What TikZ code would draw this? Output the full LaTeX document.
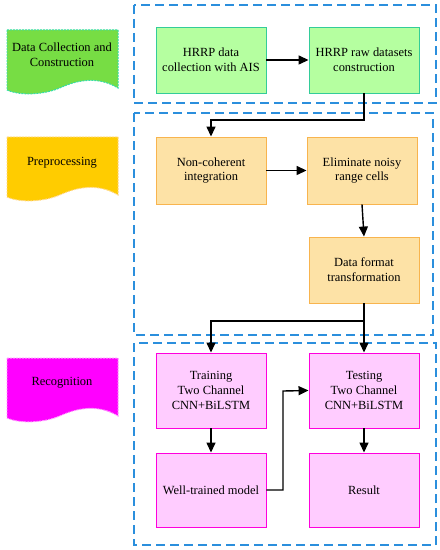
\documentclass[tikz,border=0pt]{standalone}
\usepackage{fontspec}
\setmainfont{Liberation Serif}
\usetikzlibrary{arrows.meta}
\definecolor{dashblue}{HTML}{2B8FDD}
\definecolor{lgfill}{HTML}{77DD44}
\definecolor{lgbord}{HTML}{33DDAA}
\definecolor{gfill}{HTML}{B5FFA0}
\definecolor{gbord}{HTML}{33CC99}
\definecolor{lofill}{HTML}{FFCC00}
\definecolor{lobord}{HTML}{FFD88A}
\definecolor{ofill}{HTML}{FDE2A6}
\definecolor{obord}{HTML}{F8B44E}
\definecolor{lmfill}{HTML}{FF00FF}
\definecolor{lmbord}{HTML}{FF99FF}
\definecolor{pfill}{HTML}{FFCCFF}
\definecolor{pbord}{HTML}{FF00DD}
\tikzset{
  box/.style={draw, line width=0.9pt, minimum width=110bp, align=center, inner sep=2pt,
    font=\fontsize{12.5}{15}\selectfont},
  gbox/.style={box, fill=gfill, draw=gbord, minimum height=66bp},
  obox/.style={box, fill=ofill, draw=obord, minimum height=67bp},
  pbox/.style={box, fill=pfill, draw=pbord, minimum height=75bp},
  stage/.style={draw=dashblue, line width=1.1pt, dash pattern=on 9bp off 5bp},
  arr/.style={line width=1.4pt, -{Triangle[length=10bp,width=9bp]}},
  lbl/.style={align=center, font=\fontsize{12.5}{15}\selectfont},
}
\newcommand\mydoc[4]{% top y, fill, border, node name
  \begin{scope}[shift={(0,#1)}]
    \path[fill=#2, draw=#3, line width=1pt, dash pattern=on 2bp off 1bp]
      (7,0) -- (118,0) -- (118,58)
      .. controls (100,47) and (80,49) .. (62,57)
      .. controls (45,65) and (20,66) .. (7,60) -- cycle;
    \coordinate (#4) at (62,30);
  \end{scope}}
\begin{document}
\begin{tikzpicture}[x=1bp,y=-1bp]
\useasboundingbox (0,0) rectangle (440,550);
% stage frames
\draw[stage] (134,5) rectangle (436,103);
\draw[stage] (134,113) rectangle (433,335);
\draw[stage] (134,343) rectangle (436,545);
% left labels
\mydoc{30}{lgfill}{lgbord}{dcl}
\node[lbl] (dct) at (62,55) {Data Collection and\\Construction};
\mydoc{137}{lofill}{lobord}{ppl}
\node[lbl] (ppt) at (62,163) {Preprocessing};
\mydoc{358}{lmfill}{lmbord}{rcl}
\node[lbl] (rct) at (62,383) {Recognition};
% boxes
\node[gbox] (hd) at (211,60) {HRRP data\\collection with AIS};
\node[gbox] (hr) at (364,60) {HRRP raw datasets\\construction};
\node[obox] (nc) at (211,170.5) {Non-coherent\\integration};
\node[obox] (el) at (362,170.5) {Eliminate noisy\\range cells};
\node[obox, minimum height=66bp] (df) at (364,270) {Data format\\transformation};
\node[pbox] (tr) at (211,390.5) {Training\\Two Channel\\CNN+BiLSTM};
\node[pbox, minimum height=74bp] (wt) at (211,490) {Well-trained model};
\node[pbox] (te) at (364,390.5) {Testing\\Two Channel\\CNN+BiLSTM};
\node[pbox, minimum height=74bp] (rs) at (364,490) {Result};
% connectors
\coordinate (c1) at (364,120);
\coordinate (c2) at (211,120);
\coordinate (c3) at (364,321);
\coordinate (c4) at (211,321);
\coordinate (c5) at (283,490);
\coordinate (c6) at (283,391);
\draw[arr] (hd) -- (hr);
\draw[arr] (hr.south) |- (c2) -- (nc.north);
\draw[arr] (nc) -- (el);
\draw[arr] (el.south) -- (df.north);
\draw[arr] (df.south) -- (te.north);
\draw[arr] (c3) -- (c4) -- (tr.north);
\draw[arr] (tr) -- (wt);
\draw[arr] (wt.east) -- (c5) -- (c6) -- (te.west);
\draw[arr] (te) -- (rs);
\end{tikzpicture}
\end{document}
